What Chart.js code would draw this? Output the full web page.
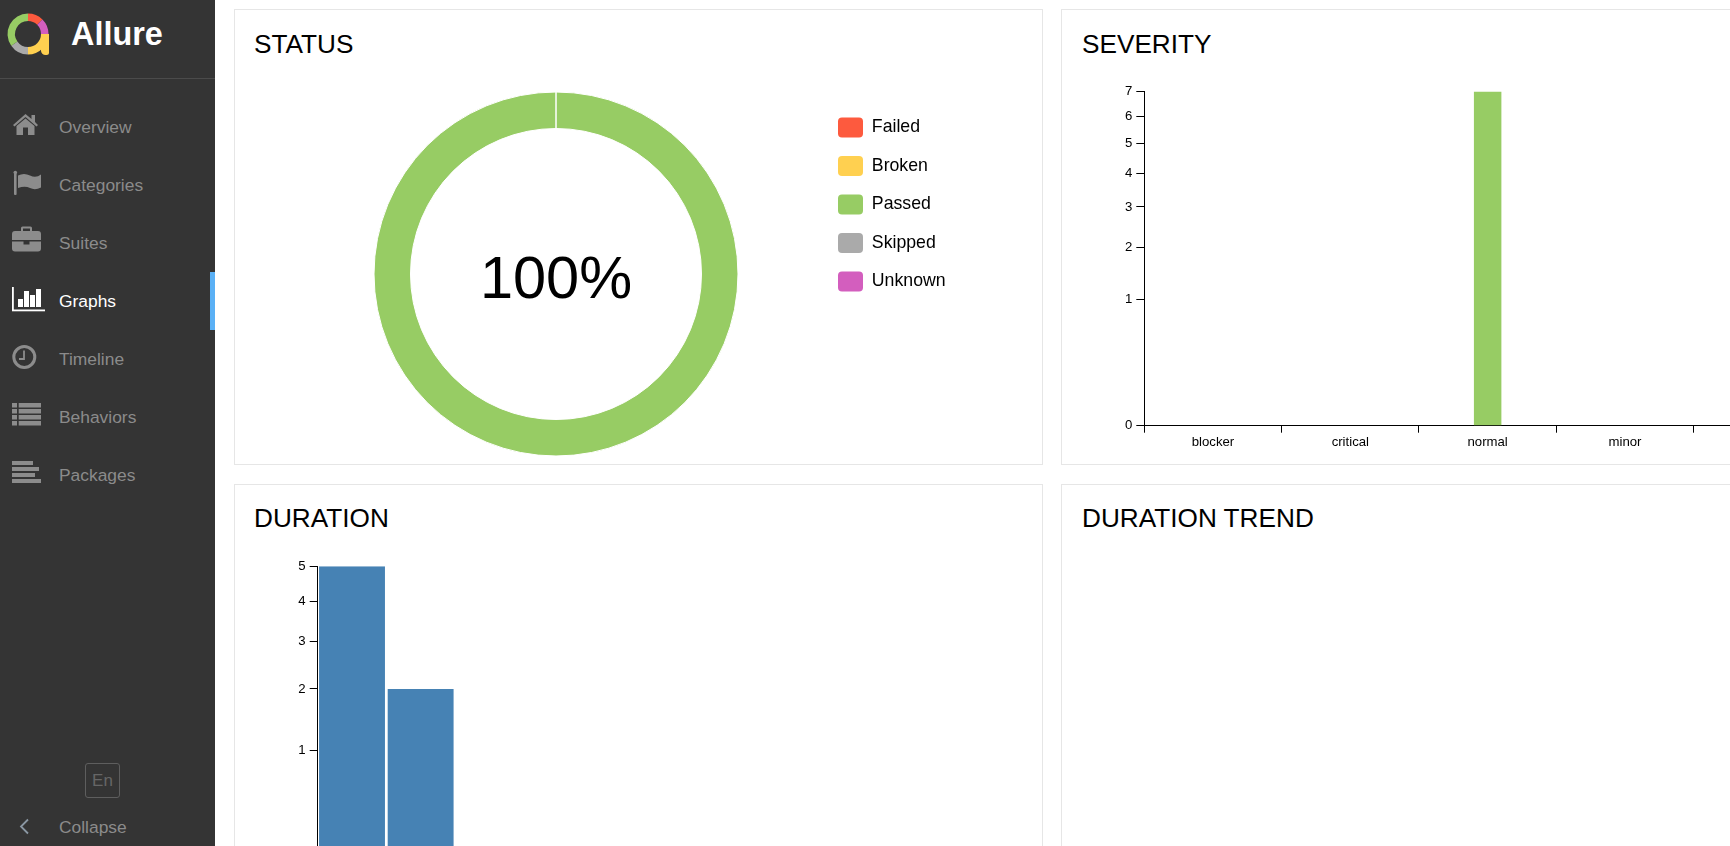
<!DOCTYPE html>
<html><head><meta charset="utf-8"><title>Allure</title>
<script src="https://cdn.jsdelivr.net/npm/chart.js@4"></script>
<style>
html,body{margin:0;padding:0;width:1730px;height:846px;overflow:hidden;background:#fff;font-family:"Liberation Sans",Arial,sans-serif}
#side{position:absolute;left:0;top:0;width:215px;height:846px;background:#343434}
#side .rule{position:absolute;left:0;top:78px;width:215px;height:1px;background:#4b4b4b}
#logoText{position:absolute;left:71px;top:16px;font-size:32.4px;font-weight:bold;color:#fff;line-height:37px}
.nav{position:absolute;left:59px;font-size:17.4px;line-height:22px;color:#8b8b8b}
.nav.on{color:#fff}
#activeBar{position:absolute;left:210px;top:272px;width:5px;height:58px;background:#5ab0f5}
#lang{position:absolute;left:85px;top:762.500px;width:33px;height:33px;border:1px solid #5e5e5e;border-radius:3px;color:#666;font-size:17px;line-height:33px;text-align:center}
.card{position:absolute;border:1px solid #e6e6e6;box-sizing:border-box;background:#fff}
.ttl{position:absolute;font-size:26.2px;line-height:30px;color:#000;white-space:nowrap}
canvas{position:absolute;display:block}
svg{position:absolute;left:0;top:0}
</style></head><body>
<div id="side">
<svg width="215" height="846">
  <g fill="none" stroke-width="7.5">
    <path d="M28 17.250A16.750 16.750 0 0 1 39.800 22.100" stroke="#fd5a3e"/>
    <path d="M39.800 22.100A16.750 16.750 0 0 1 44.750 34" stroke="#d35ebe"/>
    <path d="M44.750 34A16.750 16.750 0 0 1 28 50.750" stroke="#ffd050"/>
    <path d="M28 50.750A16.750 16.750 0 0 1 14.300 43.600" stroke="#aaa"/>
    <path d="M14.300 43.600A16.750 16.750 0 0 1 28 17.250" stroke="#97cc64"/>
  </g>
  <path d="M41 34h8v18.500a2.500 2.500 0 0 1-2.500 2.500h-1a4.500 4.500 0 0 1-4.500-4.500z" fill="#ffd050"/>
  <g fill="#8c8c8c">
    <path d="M13 125L25.500 114 31.500 119V115H35V122L38 125 36.500 126.500 25.500 117 14.500 126.500z"/>
    <path d="M16.500 126L25.500 118.500 34.500 126V135H28V127.500H23V135H16.500z"/>
    <rect x="14" y="173" width="2.600" height="22" rx="1"/><circle cx="15.300" cy="172.500" r="1.800"/>
    <path d="M18 175.500Q24 172.500 30 175.500T41 174.500V187.500Q35 190.500 30 188T18 188z"/>
    <path d="M12 234a3 3 0 0 1 3-3h6v-3a1.500 1.500 0 0 1 1.500-1.500h8a1.500 1.500 0 0 1 1.500 1.500v3h6a3 3 0 0 1 3 3v6H12zM23 231h7v-2.500h-7z" fill-rule="evenodd"/>
    <path d="M12 241.500h11.500v3h6v-3H41v7a3 3 0 0 1-3 3H15a3 3 0 0 1-3-3z"/>
    <rect x="12" y="403" width="5" height="4.500"/><rect x="18.700" y="403" width="22.300" height="4.500"/>
    <rect x="12" y="409" width="5" height="4.500"/><rect x="18.700" y="409" width="22.300" height="4.500"/>
    <rect x="12" y="415" width="5" height="4.500"/><rect x="18.700" y="415" width="22.300" height="4.500"/>
    <rect x="12" y="421" width="5" height="4.500"/><rect x="18.700" y="421" width="22.300" height="4.500"/>
    <rect x="12" y="461" width="21" height="4"/><rect x="12" y="467" width="27" height="4"/>
    <rect x="12" y="473" width="23" height="4"/><rect x="12" y="479" width="29" height="4"/>
  </g>
  <g fill="#fff">
    <rect x="12" y="287" width="1.800" height="24"/><rect x="12" y="309.500" width="33" height="1.800"/>
    <rect x="18" y="299" width="5" height="8"/><rect x="24" y="291" width="5" height="16"/>
    <rect x="30" y="295" width="5" height="12"/><rect x="36" y="289" width="5" height="18"/>
  </g>
  <circle cx="24.300" cy="357" r="10.500" fill="none" stroke="#8c8c8c" stroke-width="3"/>
  <path d="M24 350.500V359H19" fill="none" stroke="#8c8c8c" stroke-width="1.800"/>
  <path d="M28 819.500L21 826.500 28 833.500" fill="none" stroke="#8a97a3" stroke-width="1.800"/>
</svg>
<div id="logoText">Allure</div>
<div class="rule"></div>
<div class="nav" style="top:115.500px">Overview</div>
<div class="nav" style="top:173.500px">Categories</div>
<div class="nav" style="top:231.500px">Suites</div>
<div class="nav on" style="top:289.500px">Graphs</div>
<div class="nav" style="top:347.500px">Timeline</div>
<div class="nav" style="top:405.500px">Behaviors</div>
<div class="nav" style="top:463.500px">Packages</div>
<div id="activeBar"></div>
<div id="lang">En</div>
<div class="nav" style="top:815.500px">Collapse</div>
</div>

<div class="card" style="left:234px;top:9px;width:809px;height:456px"></div>
<div class="card" style="left:1061px;top:9px;width:800px;height:456px"></div>
<div class="card" style="left:234px;top:484px;width:809px;height:500px"></div>
<div class="card" style="left:1061px;top:484px;width:800px;height:500px"></div>
<div class="ttl" style="left:254px;top:29px">STATUS</div>
<div class="ttl" style="left:1082px;top:29px">SEVERITY</div>
<div class="ttl" style="left:254px;top:503px">DURATION</div>
<div class="ttl" style="left:1082px;top:503px">DURATION TREND</div>

<canvas id="status" width="760" height="378" style="left:235px;top:85px;width:760px;height:378px"></canvas>
<canvas id="severity" width="790" height="400" style="left:1061px;top:60px;width:790px;height:400px"></canvas>
<canvas id="duration" width="790" height="420" style="left:234px;top:535px;width:790px;height:420px"></canvas>

<script>
const statusLabels = ["Failed","Broken","Passed","Skipped","Unknown"];
const statusValues = [0,0,7,0,0];
const statusColors = ["#fd5a3e","#ffd050","#97cc64","#aaaaaa","#d35ebe"];
const severityLabels = ["blocker","critical","normal","minor","trivial"];
const severityValues = [0,0,7,0,0];
const durationBins = ["1","2","3","4","5","6","7","8","9","10"];
const durationValues = [5,2,0,0,0,0,0,0,0,0];
const severityTicks = 7;
const durationTicks = 5;

const FONT = '"Liberation Sans", Arial, sans-serif';
Chart.defaults.font.family = FONT;
Chart.defaults.color = '#000';
Chart.defaults.animation = false;
Chart.defaults.devicePixelRatio = 1;

class SqrtScale extends Chart.LinearScale {
  static id = 'sqrt';
  static defaults = Chart.LinearScale.defaults;
  getPixelForValue(v){
    if (v === null || v === undefined) return NaN;
    const a = Math.sqrt(this.min), b = Math.sqrt(this.max);
    return this.getPixelForDecimal((Math.sqrt(v) - a) / (b - a));
  }
  getValueForPixel(p){
    const a = Math.sqrt(this.min), b = Math.sqrt(this.max);
    const s = a + this.getDecimalForPixel(p) * (b - a);
    return s * s;
  }
}
Chart.register(SqrtScale);

const centerText = {
  id:'centerText',
  afterDatasetsDraw(chart){
    const arc = chart.getDatasetMeta(0).data[0];
    const total = statusValues.reduce((a,b)=>a+b,0);
    const pct = Math.round(statusValues[2] / total * 100) + '%';
    const ctx = chart.ctx; ctx.save();
    ctx.font = '59.5px ' + FONT; ctx.fillStyle = '#000';
    ctx.textAlign = 'center'; ctx.textBaseline = 'alphabetic';
    ctx.fillText(pct, arc.x, arc.y + 23.500);
    ctx.restore();
  }
};
const placeStatus = {
  id:'placeStatus',
  afterLayout(chart){
    const a = chart.chartArea, cx = 321;
    a.left = cx - 200; a.right = cx + 200; a.width = 400;
    chart.legend.left = 584.5; chart.legend.top = 14;
  }
};

new Chart(document.getElementById('status'), {
  type:'doughnut',
  data:{labels:statusLabels, datasets:[{data:statusValues, backgroundColor:statusColors,
    borderColor:'#fff', borderWidth:1, clip:false, hoverOffset:0}]},
  options:{responsive:false, radius:182, cutout:'79.945%',
    plugins:{tooltip:{enabled:false},
      legend:{position:'right', align:'start',
        labels:{boxWidth:25, boxHeight:20, padding:18.5, color:'#000', font:{size:17.7},
          generateLabels(){ return statusLabels.map((t,i)=>({text:t, fillStyle:statusColors[i],
            strokeStyle:statusColors[i], lineWidth:0, hidden:false, index:i, borderRadius:4})); }}}}},
  plugins:[centerText, placeStatus]
});

function barOptions(yMax, leftW, xH, padTop, barless){
  return {responsive:false, layout:{padding:{top:padTop, right:20, left:0, bottom:0}},
    plugins:{legend:{display:false}, tooltip:{enabled:false}},
    scales:{
      x:{type:'category', offset:true, afterFit(s){s.height = xH;},
        grid:{offset:true, drawOnChartArea:false, tickLength:7, tickColor:'#000', color:'#000', tickWidth:1},
        border:{color:'#000', width:1},
        ticks:{display:!barless, color:'#000', font:{size:13.2}, padding:2, maxRotation:0, autoSkip:false}},
      y:{type:'sqrt', min:0, max:yMax, afterFit(s){s.width = leftW;},
        grid:{drawOnChartArea:false, tickLength:8, tickColor:'#000', color:'#000', tickWidth:1},
        border:{color:'#000', width:1},
        ticks:{stepSize:1, color:'#000', font:{size:13.2}, padding:4}}
    }};
}

new Chart(document.getElementById('severity'), {
  type:'bar',
  data:{labels:severityLabels, datasets:[{data:severityValues, backgroundColor:statusColors[2], barPercentage:0.2, categoryPercentage:1}]},
  options:barOptions(severityTicks, 83.3, 34.3, 31.5, false)
});
new Chart(document.getElementById('duration'), {
  type:'bar',
  data:{labels:durationBins, datasets:[{data:durationValues, backgroundColor:'#4682b4', barPercentage:0.96, categoryPercentage:1}]},
  options:barOptions(durationTicks, 83.7, 54.8, 31.2, true)
});
</script>
</body></html>
